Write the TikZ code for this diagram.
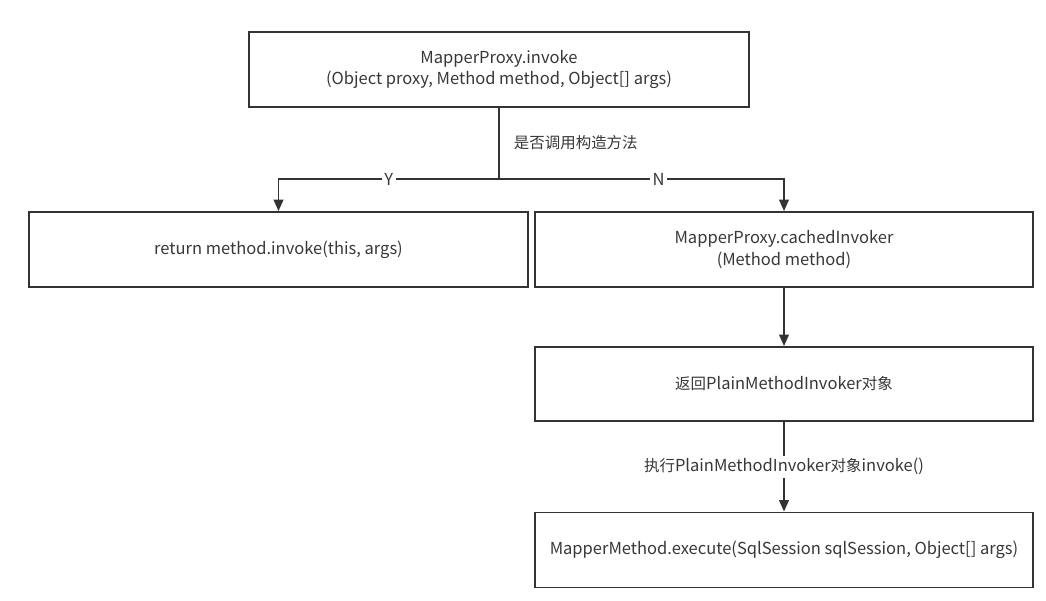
\documentclass[tikz,border=0pt]{standalone}
\usepackage{fontspec}
\setmainfont{Noto Sans CJK SC}
\newfontfamily\cjk{Noto Sans CJK SC}[Scale=0.936]
\usetikzlibrary{arrows.meta,positioning}
\colorlet{background}{white}
\colorlet{penColor}{black!80}
\colorlet{textColor}{black!78}
\tikzset{>={Triangle[length=6.5pt,width=5.5pt]},
  flowbox/.style={draw=penColor,line width=1.1pt,minimum width=10cm,
    minimum height=1.5cm,align=center,text=textColor,
    font=\fontsize{9.4}{12}\selectfont},
  flowline/.style={draw=penColor,line width=1.1pt},
  flowlabel/.style={text=textColor,font=\fontsize{9.4}{12}\selectfont,
    inner sep=1.5pt}}

\begin{document}
\begin{tikzpicture}[x=0.02cm,y=-0.02cm]
    \useasboundingbox[fill=background] (0,0) rectangle (1046,600);

    \node[flowbox] (invoke) at (499,69.5)
      {MapperProxy.invoke\\(Object proxy, Method method, Object[] args)};
    \node[flowbox,minimum width=9.98cm] (ret) at (278.5,249.5)
      {return method.invoke(this, args)};
    \node[flowbox,minimum width=9.96cm] (cached) at (784,249.5)
      {MapperProxy.cachedInvoker\\(Method method)};
    \node[flowbox,minimum width=9.96cm,minimum height=1.48cm] (plain) at (784,384)
      {{\cjk 返回}PlainMethodInvoker{\cjk 对象}};
    \node[flowbox,minimum width=9.96cm] (execute) at (784,550)
      {MapperMethod.execute(SqlSession sqlSession, Object[] args)};

    \coordinate (fork) at (499,179);
    \draw[flowline] (invoke.south) -- (fork);
    \node[flowlabel,anchor=west] (ask) at (511,143) {\cjk 是否调用构造方法};
    \draw[flowline,->] (fork) -| node[flowlabel,fill=background,pos=.25] (yes) {Y} (ret.north);
    \draw[flowline,->] (fork) -| node[flowlabel,fill=background,pos=.28] (no) {N} (cached.north);

    \draw[flowline,->] (cached.south) -- (plain.north);
    \draw[flowline,->] (plain.south) -- node[flowlabel,fill=background] (run)
      {{\cjk 执行}PlainMethodInvoker{\cjk 对象}invoke()} (execute.north);
  \end{tikzpicture}
\end{document}
